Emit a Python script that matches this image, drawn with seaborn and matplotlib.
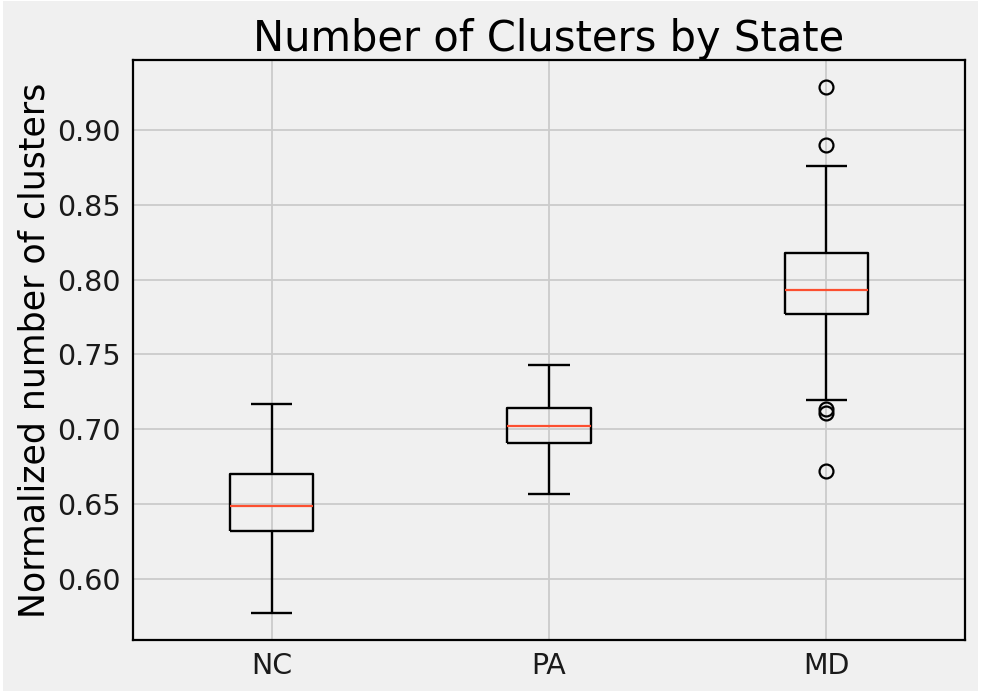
import matplotlib
matplotlib.use("Agg")
import matplotlib.pyplot as plt
import seaborn as sns
import pandas as pd
from matplotlib.patches import Rectangle

# ------------------------------------------
#          DATA
# ------------------------------------------

states = ["NC", "PA", "MD"]

nc_values = [0.5773, 0.6321, 0.6488, 0.6702, 0.7169]
pa_values = [0.6568, 0.6909, 0.7022, 0.7143, 0.7430]
md_values = [
    0.6722, 0.7109, 0.7136, 0.7196,
    0.7771, 0.7820, 0.7870, 0.7905,
    0.7931, 0.7980, 0.8040, 0.8110,
    0.8178, 0.8450, 0.8759, 0.8900, 0.9287,
]

df = pd.DataFrame({
    "state": ["NC"] * len(nc_values) + ["PA"] * len(pa_values) + ["MD"] * len(md_values),
    "value": nc_values + pa_values + md_values,
})

# ------------------------------------------
#          STYLE
# ------------------------------------------

plt.style.use("fivethirtyeight")
bg = "#f0f0f0"

fig = plt.figure(figsize=(9.82, 6.96), dpi=100)
fig.patch.set_facecolor("white")
fig.patches.append(Rectangle(
    (3 / 982, 5 / 696), 975 / 982, 690 / 696,
    transform=fig.transFigure, facecolor=bg, edgecolor="none", zorder=-10
))

ax = fig.add_axes([133 / 982, 56 / 696, 832 / 982, 580 / 696])
ax.set_facecolor(bg)

sns.boxplot(
    data=df,
    x="state",
    y="value",
    order=states,
    width=0.3,
    fill=False,
    color="black",
    linewidth=1.7,
    whis=1.5,
    medianprops={"color": "#fc4f30", "linewidth": 1.6},
    flierprops={"marker": "o", "markersize": 10, "markerfacecolor": "none",
                "markeredgecolor": "black", "markeredgewidth": 1.6},
    ax=ax,
)

ax.set_xlim(-0.5, 2.5)
ax.set_ylim(0.5592, 0.9468)
ax.set_yticks([0.60, 0.65, 0.70, 0.75, 0.80, 0.85, 0.90])
ax.set_yticklabels([f"{v:.2f}" for v in ax.get_yticks()])

ax.grid(True, color="#cbcbcb", linewidth=1.3)
ax.set_axisbelow(True)
for side in ["left", "right", "top", "bottom"]:
    ax.spines[side].set_visible(True)
    ax.spines[side].set_color("black")
    ax.spines[side].set_linewidth(1.6)

ax.tick_params(axis="both", labelsize=20.5, length=0, pad=9, labelcolor="#1a1a1a")
ax.set_xlabel("")
ax.set_ylabel("Normalized number of clusters", fontsize=25, labelpad=4)
ax.set_title("Number of Clusters by State", fontsize=30, pad=6)

plt.savefig("out.png", dpi=100, facecolor=fig.get_facecolor())
